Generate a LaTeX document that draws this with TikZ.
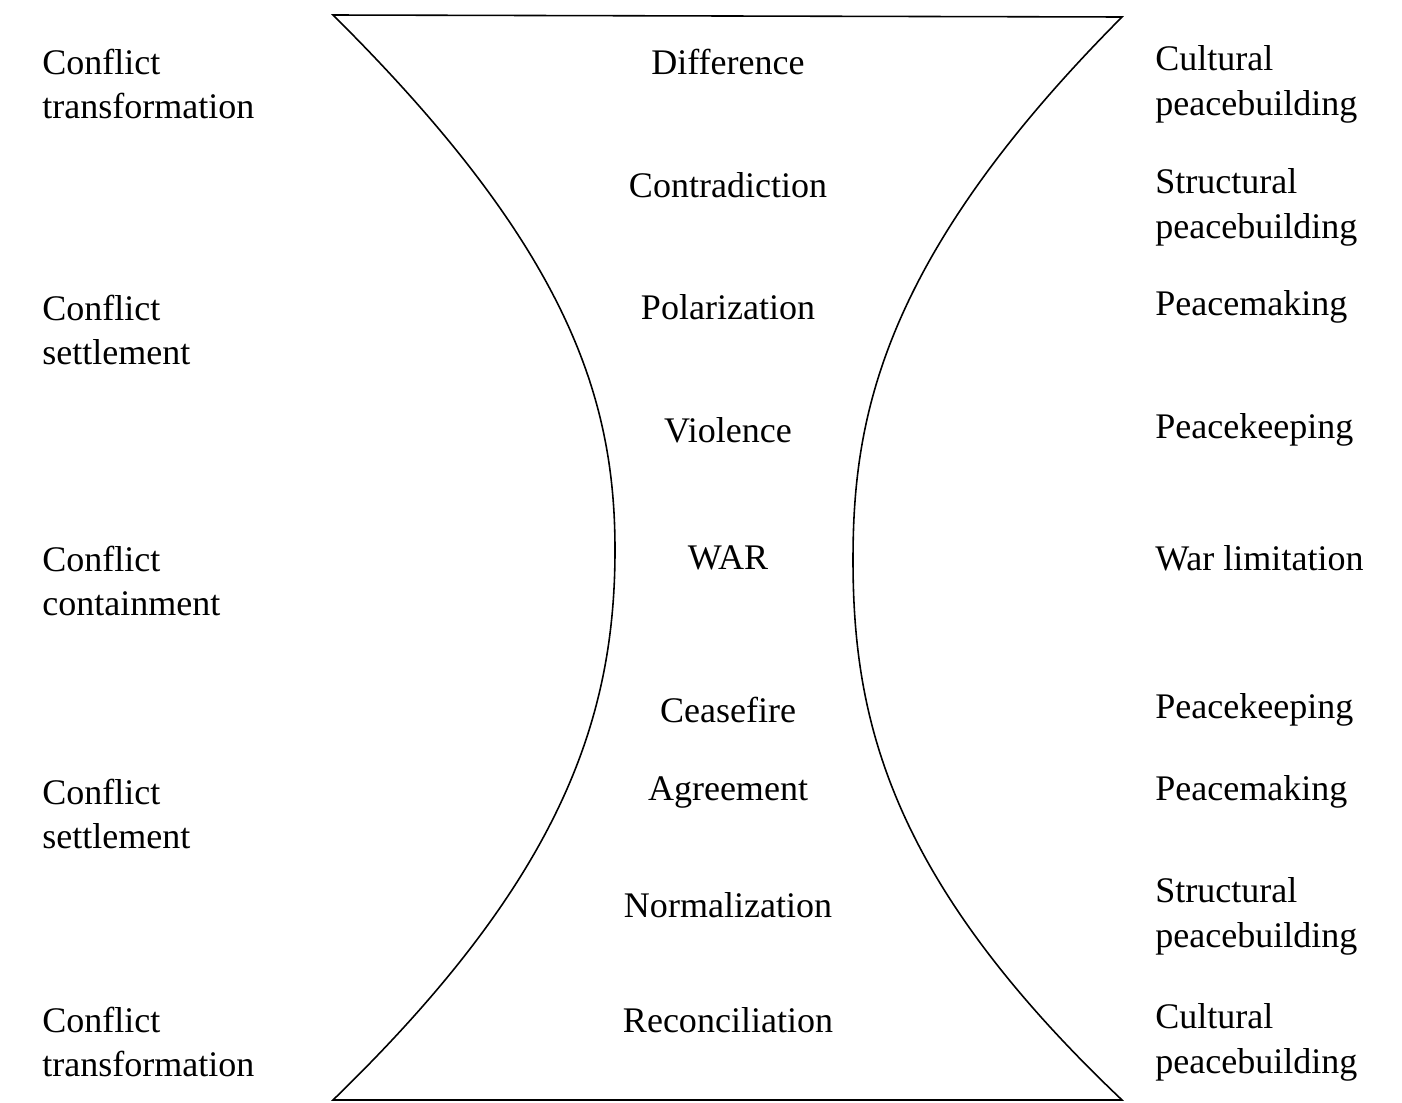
\documentclass[tikz,border=0pt]{standalone}
\usepackage{fontspec}
\setmainfont{Liberation Serif}
\begin{document}
\begin{tikzpicture}[x=0.02cm,y=-0.02cm,
  lbl/.style={font=\fontsize{20.5}{25.5}\selectfont,inner sep=0pt,align=left},
  mid/.style={lbl,anchor=center},
  side/.style={lbl,anchor=west}]
\useasboundingbox (0,0) rectangle (1402,1102);
\draw[line width=0.9pt] (333,15) -- (1122,17)
  .. controls (880,260) and (853,420) .. (853,560)
  .. controls (853,720) and (890,880) .. (1122,1100)
  -- (333,1100)
  .. controls (560,880) and (615,720) .. (615,550)
  .. controls (615,400) and (570,250) .. (333,15) -- cycle;
\node[mid] (m1) at (728,62) {Difference};
\node[mid] (m2) at (728,185) {Contradiction};
\node[mid] (m3) at (728,307) {Polarization};
\node[mid] (m4) at (728,430) {Violence};
\node[mid] (m5) at (728,558) {WAR};
\node[mid] (m6) at (728,710) {Ceasefire};
\node[mid] (m7) at (728,792) {Agreement};
\node[mid] (m8) at (728,905) {Normalization};
\node[mid] (m9) at (728,1020) {Reconciliation};
\node[side] (l1) at (42,84) {Conflict\\transformation};
\node[side] (l2) at (42,330) {Conflict\\settlement};
\node[side] (l3) at (42,581) {Conflict\\containment};
\node[side] (l4) at (42,814) {Conflict\\settlement};
\node[side] (l5) at (42,1042) {Conflict\\transformation};
\node[side] (r1) at (1155,84) {Cultural\\peacebuilding};
\node[side] (r2) at (1155,207) {Structural\\peacebuilding};
\node[side] (r3) at (1155,307) {Peacemaking};
\node[side] (r4) at (1155,430) {Peacekeeping};
\node[side] (r5) at (1155,558) {War limitation};
\node[side] (r6) at (1155,710) {Peacekeeping};
\node[side] (r7) at (1155,792) {Peacemaking};
\node[side] (r8) at (1155,916) {Structural\\peacebuilding};
\node[side] (r9) at (1155,1042) {Cultural\\peacebuilding};
\end{tikzpicture}
\end{document}
